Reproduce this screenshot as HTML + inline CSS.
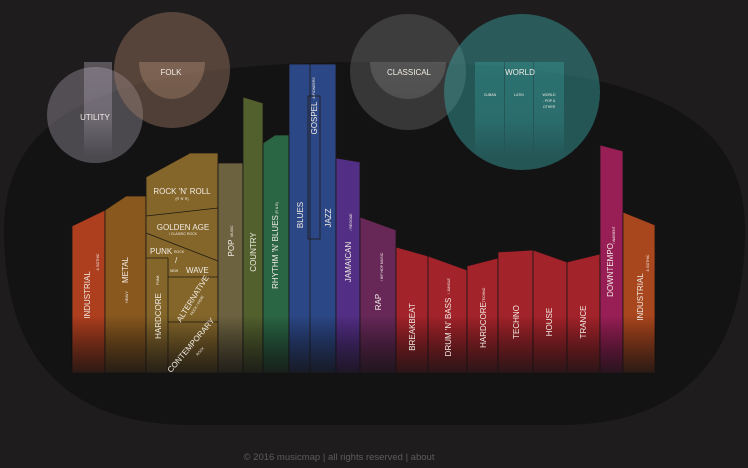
<!DOCTYPE html>
<html><head><meta charset="utf-8"><style>
html,body{margin:0;padding:0;background:#1e1c1d;}
svg{display:block}
text{font-family:"Liberation Sans",sans-serif;fill:#f2ece4;}
.b{font-size:8px}
.s{font-size:3.5px}
</style></head><body>
<svg width="748" height="468" viewBox="0 0 748 468" xmlns="http://www.w3.org/2000/svg">
<defs>
<linearGradient id="fade" x1="0" y1="0" x2="0" y2="1">
<stop offset="0" stop-color="#000" stop-opacity="0"/>
<stop offset="0.75" stop-color="#000" stop-opacity="0"/>
<stop offset="1" stop-color="#141314" stop-opacity="0.85"/>
</linearGradient>
<linearGradient id="cf" x1="0" y1="0" x2="0" y2="1">
<stop offset="0" stop-color="#fff" stop-opacity="1"/>
<stop offset="0.6" stop-color="#fff" stop-opacity="0.8"/>
<stop offset="1" stop-color="#fff" stop-opacity="0"/>
</linearGradient>
<mask id="m1"><rect x="0" y="62" width="748" height="95" fill="url(#cf)"/></mask>
</defs>
<rect width="748" height="468" fill="#1e1c1d"/>
<path d="M374,62 C640,62 745,110 745,230 C745,380 660,425 560,425 L190,425 C90,425 4,380 4,230 C4,110 110,62 374,62 Z" fill="#141314"/>
<!-- circles -->
<circle cx="95" cy="115" r="48" fill="#b0a8b8" fill-opacity="0.36"/>
<circle cx="172" cy="70" r="58" fill="#a47c66" fill-opacity="0.42"/>
<circle cx="408" cy="72" r="58" fill="#8a8a8a" fill-opacity="0.3"/>
<circle cx="522" cy="92" r="78" fill="#3aa8a6" fill-opacity="0.45"/>
<g mask="url(#m1)" opacity="0.35">
<rect x="84" y="62" width="28" height="100" fill="#c8bccc"/>
<ellipse cx="172" cy="62" rx="33" ry="37" fill="#c49c80"/>
<ellipse cx="408" cy="62" rx="38" ry="37" fill="#8a8a8a"/>
<rect x="475" y="62" width="29" height="95" fill="#3aa8a6"/>
<rect x="505" y="62" width="28" height="95" fill="#3aa8a6"/>
<rect x="534" y="62" width="30" height="95" fill="#3aa8a6"/>
</g>
<!-- columns -->
<g stroke="#1a1414" stroke-width="0.8">
<path d="M72,226 L105,210 L105,373 L72,373 Z" fill="#ad3e1e"/>
<path d="M105,210 L126,196 L146,196 L146,373 L105,373 Z" fill="#88581f"/>
<path d="M146,177 L190,153 L218,153 L218,373 L146,373 Z" fill="#84662a"/>
<path d="M218,163 L243,163 L243,373 L218,373 Z" fill="#6c6240"/>
<path d="M243,97 L263,103 L263,373 L243,373 Z" fill="#52602e"/>
<path d="M263,143 L275,135 L289,135 L289,373 L263,373 Z" fill="#2a6644"/>
<rect x="289" y="64" width="47" height="309" fill="#2c4786"/>
<path d="M336,158 L360,162 L360,373 L336,373 Z" fill="#522e84"/>
<path d="M360,217 L396,230 L396,373 L360,373 Z" fill="#672858"/>
<path d="M396,247 L428,256 L428,373 L396,373 Z" fill="#a2232a"/>
<path d="M428,256 L467,270 L467,373 L428,373 Z" fill="#a2232a"/>
<path d="M467,266 L498,258 L498,373 L467,373 Z" fill="#a2232a"/>
<path d="M498,252 L533,250 L533,373 L498,373 Z" fill="#a2232a"/>
<path d="M533,250 L567,262 L567,373 L533,373 Z" fill="#a2232a"/>
<path d="M567,262 L600,254 L600,373 L567,373 Z" fill="#a2232a"/>
<path d="M600,145 L623,151 L623,373 L600,373 Z" fill="#981e56"/>
<path d="M623,212 L655,225 L655,373 L623,373 Z" fill="#a8461d"/>
</g>
<g stroke="#1e1a12" stroke-width="0.8" fill="none">
<line x1="146" y1="216" x2="218" y2="208"/>
<line x1="146" y1="233" x2="218" y2="261"/>
<line x1="146" y1="258" x2="168" y2="258"/>
<line x1="168" y1="258" x2="168" y2="373"/>
<line x1="168" y1="277" x2="218" y2="277"/>
<line x1="168" y1="322" x2="218" y2="322"/>
<line x1="310" y1="64" x2="310" y2="373"/>
<rect x="308" y="96" width="12" height="143"/>
</g>
<rect x="71" y="140" width="585" height="234" fill="url(#fade)"/>
<!-- labels -->
<text class="b" x="182" y="194" text-anchor="middle">ROCK 'N' ROLL</text>
<text class="s" x="182" y="200" text-anchor="middle">(R 'N' R)</text>
<text class="b" x="183" y="230" text-anchor="middle">GOLDEN AGE</text>
<text class="s" x="183" y="235" text-anchor="middle">/ CLASSIC ROCK</text>
<text class="b" x="150" y="254">PUNK</text><text class="s" x="174" y="253">ROCK</text>
<text class="b" x="175" y="263">/</text>
<text class="s" x="170" y="272">NEW</text><text class="b" x="186" y="273">WAVE</text>
<g text-anchor="middle">
<text class="b" transform="translate(90,295) rotate(-90)">INDUSTRIAL</text>
<text class="s" transform="translate(99,262) rotate(-90)">&amp; GOTHIC</text>
<text class="b" transform="translate(128,270) rotate(-90)">METAL</text>
<text class="s" transform="translate(128,297) rotate(-90)">HEAVY</text>
<text class="b" transform="translate(161,316) rotate(-90)">HARDCORE</text>
<text class="s" transform="translate(159,280) rotate(-90)">PUNK</text>
<text class="b" transform="translate(195,300) rotate(-58)">ALTERNATIVE</text>
<text class="s" transform="translate(198,306) rotate(-58)">ROCK / INDIE</text>
<text class="b" transform="translate(193,347) rotate(-50)">CONTEMPORARY</text>
<text class="s" transform="translate(201,352) rotate(-50)">ROCK</text>
<text class="b" transform="translate(234,248) rotate(-90)">POP</text>
<text class="s" transform="translate(233,231) rotate(-90)">MUSIC</text>
<text class="b" transform="translate(256,252) rotate(-90)">COUNTRY</text>
<text class="b" transform="translate(278,252) rotate(-90)">RHYTHM 'N' BLUES</text>
<text class="s" transform="translate(278,208) rotate(-90)">(R &amp; B)</text>
<text class="b" transform="translate(303,215) rotate(-90)">BLUES</text>
<text class="b" transform="translate(317,118) rotate(-90)">GOSPEL</text>
<text class="s" transform="translate(315,88) rotate(-90)">&amp; PIONEERS</text>
<text class="b" transform="translate(331,218) rotate(-90)">JAZZ</text>
<text class="b" transform="translate(351,262) rotate(-90)">JAMAICAN</text>
<text class="s" transform="translate(352,222) rotate(-90)">/ REGGAE</text>
<text class="b" transform="translate(381,302) rotate(-90)">RAP</text>
<text class="s" transform="translate(383,267) rotate(-90)">/ HIP HOP MUSIC</text>
<text class="b" transform="translate(415,327) rotate(-90)">BREAKBEAT</text>
<text class="b" transform="translate(451,327) rotate(-90)">DRUM 'N' BASS</text>
<text class="s" transform="translate(450,286) rotate(-90)">/ JUNGLE</text>
<text class="b" transform="translate(486,325) rotate(-90)">HARDCORE</text>
<text class="s" transform="translate(485,295) rotate(-90)">TECHNO</text>
<text class="b" transform="translate(519,322) rotate(-90)">TECHNO</text>
<text class="b" transform="translate(552,322) rotate(-90)">HOUSE</text>
<text class="b" transform="translate(586,322) rotate(-90)">TRANCE</text>
<text class="b" transform="translate(613,270) rotate(-90)">DOWNTEMPO</text>
<text class="s" transform="translate(615,235) rotate(-90)">/ AMBIENT</text>
<text class="b" transform="translate(643,297) rotate(-90)">INDUSTRIAL</text>
<text class="s" transform="translate(649,263) rotate(-90)">&amp; GOTHIC</text>
<text class="b" x="95" y="120" font-size="9">UTILITY</text>
<text class="b" x="171" y="75" font-size="9">FOLK</text>
<text class="b" x="409" y="75" font-size="9">CLASSICAL</text>
<text class="b" x="520" y="75" font-size="9">WORLD</text>
<text class="s" x="490" y="96">CUBAN</text>
<text class="s" x="519" y="96">LATIN</text>
<text class="s" x="549" y="96">WORLD</text>
<text class="s" x="549" y="102">- POP &amp;</text>
<text class="s" x="549" y="108">OTHER</text>
<text x="339" y="460" font-size="9.5" style="fill:#5e5b5c">© 2016 musicmap | all rights reserved | about</text>
</g>
</svg>
</body></html>
